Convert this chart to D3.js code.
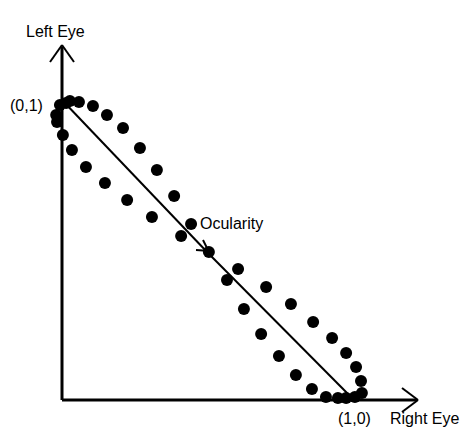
<!DOCTYPE html>
<html><head><meta charset="utf-8">
<script src="https://d3js.org/d3.v7.min.js"></script>
<style>body{margin:0;background:#fff;} text{font-family:"Liberation Sans",Arial,sans-serif;font-size:16px;fill:#000;}</style>
</head><body><svg id="c" width="474" height="443"></svg>
<script>
var rightEye = [-0.007,0.014,0.027,0.058,0.106,0.154,0.209,0.267,0.325,0.384,0.442,0.503,0.603,0.699,0.784,0.86,0.925,0.973,1.007,1.024,1.027,1.003,0.973,0.945,0.904,0.856,0.801,0.743,0.682,0.623,0.565,0.408,0.308,0.223,0.147,0.082,0.034,0.003,-0.017,-0.02];
var leftEye = [0.983,0.99,0.997,0.993,0.98,0.95,0.907,0.84,0.767,0.68,0.587,0.493,0.437,0.377,0.32,0.26,0.207,0.157,0.11,0.063,0.023,0.01,0.007,0.007,0.01,0.037,0.083,0.147,0.22,0.303,0.4,0.547,0.61,0.667,0.723,0.777,0.833,0.883,0.927,0.95];
var ocularity = [[0,1],[0.5,0.49]];

var svg = d3.select("#c");
var x = d3.scaleLinear().domain([0,1]).range([62,354]);
var y = d3.scaleLinear().domain([0,1]).range([400,100]);
var ln = function(x1,y1,x2,y2,w){svg.append("line").attr("x1",x1).attr("y1",y1).attr("x2",x2).attr("y2",y2).attr("stroke","#000").attr("stroke-width",w);};

// axes
ln(x(0),y(0),x(0),47,3); ln(x(0),y(0),417,y(0),3);
ln(50,62,x(0),45,2); ln(74,62,x(0),45,2);
ln(402,388,418,y(0),2); ln(402,412,418,y(0),2);

// ocularity line
ln(x(ocularity[0][0]),y(ocularity[0][1]),x(ocularity[1][0]),y(ocularity[1][1]),2);
ln(x(1),y(0),x(ocularity[1][0]),y(ocularity[1][1]),2);
ln(196,250,210,251,2); ln(203,240,209,252,2);

svg.selectAll("circle").data(rightEye).join("circle")
  .attr("cx",function(d){return x(d);}).attr("cy",function(d,i){return y(leftEye[i]);})
  .attr("r",6).attr("fill","#000");

var t = function(s,a,b){svg.append("text").attr("x",a).attr("y",b).text(s);};
t("Left Eye",26,37); t("(0,1)",10,111); t("Ocularity",200,229);
t("(1,0)",338,424); t("Right Eye",390,424);
</script></body></html>
